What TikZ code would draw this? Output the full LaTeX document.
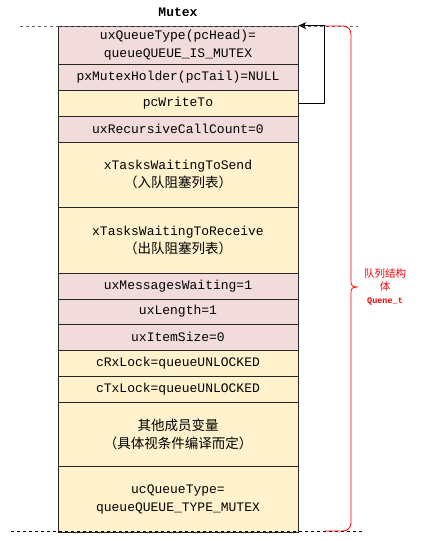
\documentclass[tikz,border=0pt]{standalone}
\usepackage{fontspec}
\setmainfont{Liberation Mono}
\newfontfamily\cjk{Noto Sans CJK SC}
\usetikzlibrary{arrows.meta}
\definecolor{fieldpink}{HTML}{F2DCDB}
\definecolor{fieldyellow}{HTML}{FFF2CC}
\definecolor{bracered}{HTML}{FF0000}
\newcommand{\zh}[1]{{\cjk\fontsize{13.5}{18}\selectfont #1}}

\begin{document}
\begin{tikzpicture}[
  x=1pt, y=-1pt,
  font=\fontsize{13}{18}\selectfont,
  field/.style={rectangle, draw=black!85, line width=0.8pt, minimum width=240pt,
    inner sep=0pt, align=center},
  pinkfield/.style={field, fill=fieldpink},
  yellowfield/.style={field, fill=fieldyellow},
  arrow/.style={-{Stealth[length=8pt, width=7pt]}, line width=0.8pt},
  guide/.style={dashed, line width=0.6pt},
  qannot/.style={text=bracered, font=\fontsize{10.5}{13}\selectfont, align=center},
]
\useasboundingbox (0,0) rectangle (423,541);

% === Title ===
\node[font=\bfseries\fontsize{13}{15}\selectfont] (title) at (178,12) {Mutex};

% === Queue_t fields ===
\node[pinkfield, minimum height=38pt]   (head)   at (178,45)    {uxQueueType(pcHead)=\\queueQUEUE\_IS\_MUTEX};
\node[pinkfield, minimum height=26pt]   (tail)   at (178,77)    {pxMutexHolder(pcTail)=NULL};
\node[yellowfield, minimum height=26pt] (write)  at (178,103)   {pcWriteTo};
\node[pinkfield, minimum height=26pt]   (recur)  at (178,129)   {uxRecursiveCallCount=0};
\node[yellowfield, minimum height=65pt] (send)   at (178,174.5) {xTasksWaitingToSend\\\zh{（入队阻塞列表）}};
\node[yellowfield, minimum height=66pt] (recv)   at (178,240)   {xTasksWaitingToReceive\\\zh{（出队阻塞列表）}};
\node[pinkfield, minimum height=26pt]   (msgs)   at (178,286)   {uxMessagesWaiting=1};
\node[pinkfield, minimum height=25pt]   (len)    at (178,311.5) {uxLength=1};
\node[pinkfield, minimum height=26pt]   (isize)  at (178,337)   {uxItemSize=0};
\node[yellowfield, minimum height=26pt] (rxlock) at (178,363)   {cRxLock=queueUNLOCKED};
\node[yellowfield, minimum height=26pt] (txlock) at (178,389)   {cTxLock=queueUNLOCKED};
\node[yellowfield, minimum height=64pt] (other)  at (178,434)   {\zh{其他成员变量}\\\zh{（具体视条件编译而定）}};
\node[yellowfield, minimum height=66pt] (qtype)  at (178,499)   {ucQueueType=\\queueQUEUE\_TYPE\_MUTEX};

% === Guide lines ===
\draw[guide, black!60] (20,26) -- (358,26);
\draw[guide] (11,531) -- (362,531);

% === pcWriteTo back to head ===
\draw[arrow] (write.east) -- ++(26,0) |- (head.north east);

% === Brace ===
\draw[bracered, line width=0.8pt] (325,26) [rounded corners=8pt] -- (351,26) -- (351,200)
  [sharp corners] -- (351,282) .. controls (351,286) and (353,287) .. (358,287)
  .. controls (353,287) and (351,288) .. (351,292) -- (351,400)
  [rounded corners=8pt] -- (351,531) -- (325,531);
\node[qannot] (qlabel) at (385,287)
  {{\cjk 队列结构}\\{\cjk 体}\\{\bfseries\fontsize{8.5}{12}\selectfont Quene\_t}};

\end{tikzpicture}
\end{document}
